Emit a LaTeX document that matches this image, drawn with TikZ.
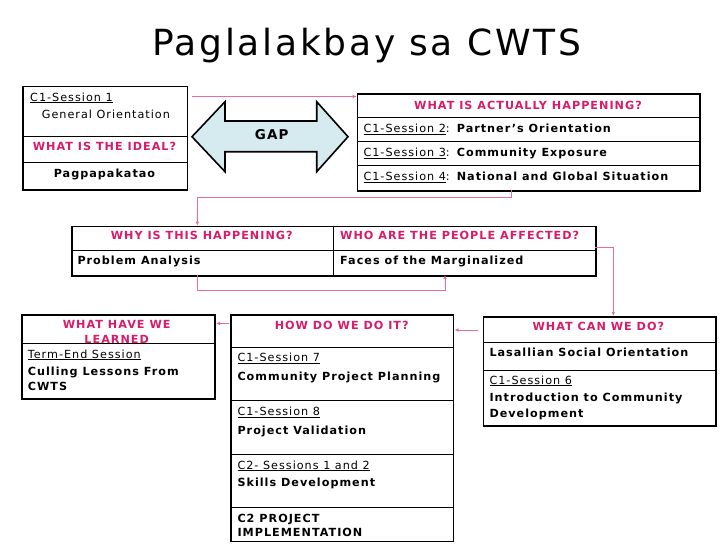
\documentclass[tikz,border=0pt]{standalone}
\usepackage{fontspec}
\setmainfont{DejaVu Sans}[LetterSpace=9]
\newfontfamily\titlefont{DejaVu Sans}[LetterSpace=7.5]
\usetikzlibrary{arrows.meta}
\definecolor{mag}{HTML}{D81B6A}
\definecolor{connc}{HTML}{E46C9E}
\definecolor{gapfill}{HTML}{D5EBF0}
\begin{document}
\begin{tikzpicture}[x=1pt,y=-1pt,
  box/.style={draw, line width=1.7pt, inner sep=0, anchor=north west},
  divl/.style={line width=0.8pt},
  tx/.style={inner sep=0, text height=8pt, text depth=0pt, font=\fontsize{11.2}{13}\selectfont},
  hd/.style={tx, text=mag, font=\bfseries\fontsize{11.2}{13}\selectfont},
  bt/.style={tx, anchor=west, font=\bfseries\fontsize{11.2}{13}\selectfont},
  rt/.style={tx, anchor=west},
  conn/.style={draw=connc, line width=0.7pt, -{Latex[length=4pt,width=3.5pt]}}]
\useasboundingbox (0,0) rectangle (728,546);

% title
\node[inner sep=0, font=\titlefont\fontsize{36}{40}\selectfont] (title) at (366.5,46) {Paglalakbay sa CWTS};

% box 1
\node[box, minimum width=164.4pt, minimum height=103.3pt] (b1) at (22.3,85.7) {};
\draw[divl] (22.3,136) -- (186.7,136) (22.3,162) -- (186.7,162);
\node[rt] (b1a) at (30,97) {\underline{C1-Session 1}};
\node[rt] (b1b) at (41.7,114) {General Orientation};
\node[hd] (b1c) at (104.5,146.7) {WHAT IS THE IDEAL?};
\node[bt, anchor=center] (b1d) at (104.5,173) {Pagpapakatao};

% GAP arrow
\draw[line width=1.6pt, fill=gapfill, line join=miter]
  (192,136.7) -- (225,101.7) -- (225,121) -- (316.7,121) -- (316.7,101.7) -- (348,136.7)
  -- (316.7,171.7) -- (316.7,151.7) -- (225,151.7) -- (225,171.7) -- cycle;
\node[inner sep=0, font=\bfseries\fontsize{13.5}{15}\selectfont] (gap) at (271.7,135) {GAP};

% box 2
\node[box, minimum width=342.3pt, minimum height=96.7pt] (b2) at (356.7,93.3) {};
\draw[divl] (356.7,117.3) -- (699,117.3) (356.7,141.7) -- (699,141.7) (356.7,165.7) -- (699,165.7);
\node[hd] (b2a) at (528,105) {WHAT IS ACTUALLY HAPPENING?};
\node[rt] (b2b) at (363.3,128.3) {\underline{C1-Session 2}: \textbf{Partner’s Orientation}};
\node[rt] (b2c) at (363.3,152.7) {\underline{C1-Session 3}: \textbf{Community Exposure}};
\node[rt] (b2d) at (363.3,176.7) {\underline{C1-Session 4}: \textbf{National and Global Situation}};

% box 3
\node[box, minimum width=524pt, minimum height=49.3pt] (b3) at (71,225.7) {};
\draw[divl] (71,250) -- (595,250) (333.3,225.7) -- (333.3,275);
\node[hd] (b3a) at (201.7,235.7) {WHY IS THIS HAPPENING?};
\node[hd, anchor=west] (b3b) at (340,235.7) {WHO ARE THE PEOPLE AFFECTED?};
\node[bt] (b3c) at (77.3,260) {Problem Analysis};
\node[bt] (b3d) at (340,260) {Faces of the Marginalized};

% box 4
\node[box, minimum width=232.3pt, minimum height=109pt] (b4) at (482.7,316) {};
\draw[divl] (482.7,342.7) -- (715,342.7) (482.7,370) -- (715,370);
\node[hd] (b4a) at (598.3,326.7) {WHAT CAN WE DO?};
\node[bt] (b4b) at (489.3,352.7) {Lasallian Social Orientation};
\node[rt] (b4c) at (489.3,380) {\underline{C1-Session 6}};
\node[bt] (b4d) at (489.3,397.7) {Introduction to Community};
\node[bt] (b4e) at (489.3,413.3) {Development};

% box 5
\node[box, minimum width=222.7pt, minimum height=226.7pt] (b5) at (230,314) {};
\draw[divl] (230,347.3) -- (452.7,347.3) (230,400) -- (452.7,400)
  (230,454.3) -- (452.7,454.3) (230,507.3) -- (452.7,507.3);
\node[hd] (b5a) at (341.7,325) {HOW DO WE DO IT?};
\node[rt] (b5b) at (237.3,357.7) {\underline{C1-Session 7}};
\node[bt] (b5c) at (237.3,376) {Community Project Planning};
\node[rt] (b5d) at (237.3,411.7) {\underline{C1-Session 8}};
\node[bt] (b5e) at (237.3,430) {Project Validation};
\node[rt] (b5f) at (237.3,465) {\underline{C2- Sessions 1 and 2}};
\node[bt] (b5g) at (237.3,482.7) {Skills Development};
\node[bt] (b5h) at (237.3,518.3) {C2 PROJECT};
\node[bt] (b5i) at (237.3,532.3) {IMPLEMENTATION};

% box 6
\node[box, minimum width=193.3pt, minimum height=84.3pt] (b6) at (21,314) {};
\begin{scope}
  \clip (21,314) rectangle (214.3,343.3);
  \node[hd] (b6a) at (116.7,324) {WHAT HAVE WE};
  \node[hd] (b6b) at (116.7,339.3) {LEARNED};
\end{scope}
\draw[divl] (21,343.3) -- (214.3,343.3);
\node[rt] (b6c) at (27.7,354) {\underline{Term-End Session}};
\node[bt] (b6d) at (27.7,371.7) {Culling Lessons From};
\node[bt] (b6e) at (27.7,386.7) {CWTS};

% connectors
\coordinate (c1s) at (192,96.5);
\draw[conn] (c1s) -- (c1s -| b2.west);
\coordinate (c2s) at (511.7,190);
\coordinate (c2e) at (197.3,225.7);
\draw[conn] (c2s) -- (511.7,197.5) -- (197.3,197.5) -- (c2e);
\coordinate (c3s) at (197.3,275);
\coordinate (c3e) at (445,275);
\draw[conn] (c3s) -- (197.3,290.7) -- (445,290.7) -- (c3e);
\coordinate (c4s) at (595,247.3);
\draw[conn] (c4s) -- (613.3,247.3) -- (613.3,316);
\coordinate (c5s) at (478.3,330);
\draw[conn] (c5s) -- (454.5,330);
\coordinate (c6s) at (229,323.5);
\draw[conn] (c6s) -- (c6s -| b6.east);
\end{tikzpicture}
\end{document}
